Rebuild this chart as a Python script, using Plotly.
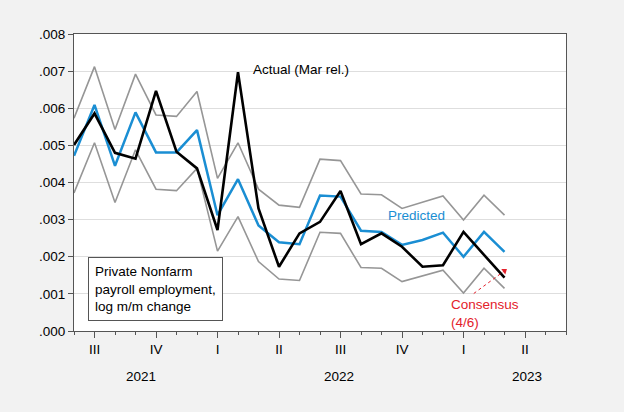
import plotly.graph_objects as go

# Monthly observations, June 2021 .. March 2023 (index 0 = Jun 2021)
months = ["2021-06", "2021-07", "2021-08", "2021-09", "2021-10", "2021-11", "2021-12",
          "2022-01", "2022-02", "2022-03", "2022-04", "2022-05", "2022-06", "2022-07",
          "2022-08", "2022-09", "2022-10", "2022-11", "2022-12", "2023-01", "2023-02", "2023-03"]
actual = [0.00501, 0.00586, 0.00480, 0.00464, 0.00647, 0.00483, 0.00438,
          0.00272, 0.00697, 0.00330, 0.00173, 0.00263, 0.00294, 0.00377,
          0.00234, 0.00263, 0.00227, 0.00173, 0.00177, 0.00267, 0.00205, 0.00144]
predicted = [0.00472, 0.00609, 0.00445, 0.00589, 0.00481, 0.00481, 0.00541,
             0.00312, 0.00409, 0.00284, 0.00239, 0.00234, 0.00365, 0.00362,
             0.00270, 0.00267, 0.00232, 0.00245, 0.00265, 0.00200, 0.00267, 0.00213]
upper = [0.00573, 0.00712, 0.00543, 0.00692, 0.00582, 0.00578, 0.00645,
         0.00411, 0.00507, 0.00382, 0.00339, 0.00333, 0.00463, 0.00459,
         0.00369, 0.00367, 0.00330, 0.00346, 0.00364, 0.00299, 0.00366, 0.00312]
lower = [0.00372, 0.00507, 0.00346, 0.00488, 0.00382, 0.00378, 0.00438,
         0.00215, 0.00308, 0.00187, 0.00140, 0.00136, 0.00266, 0.00263,
         0.00171, 0.00169, 0.00133, 0.00148, 0.00164, 0.00102, 0.00169, 0.00115]
consensus_month = "2023-03"
consensus_value = 0.00162

quarter_ticks = ["2021-07", "2021-10", "2022-01", "2022-04", "2022-07", "2022-10", "2023-01", "2023-04"]
quarter_labels = ["III", "IV", "I", "II", "III", "IV", "I", "II"]
year_labels = ["2021", "2022", "2023"]
year_pos = [3.27, 12.95, 22.1]
y_ticks = [0.000, 0.001, 0.002, 0.003, 0.004, 0.005, 0.006, 0.007, 0.008]
y_labels = [".000", ".001", ".002", ".003", ".004", ".005", ".006", ".007", ".008"]


def idx(m):
    y, mo = m.split("-")
    return (int(y) - 2021) * 12 + int(mo) - 6


x = [idx(m) for m in months]
FONT = "Liberation Sans, Arial, sans-serif"
GRAY = "#969696"
BLUE = "#1a8ed3"
RED = "#e3202a"

fig = go.Figure()
fig.add_trace(go.Scatter(x=x, y=upper, mode="lines", line=dict(color=GRAY, width=1.6)))
fig.add_trace(go.Scatter(x=x, y=lower, mode="lines", line=dict(color=GRAY, width=1.6)))
fig.add_trace(go.Scatter(x=x, y=predicted, mode="lines", line=dict(color=BLUE, width=2.5)))
fig.add_trace(go.Scatter(x=x, y=actual, mode="lines", line=dict(color="black", width=2.6)))

cx = idx(consensus_month)
# dotted pointer from label to the consensus marker
fig.add_shape(type="line", xref="x", yref="y", x0=cx - 1.5, y0=consensus_value - 0.00061,
              x1=cx, y1=consensus_value, line=dict(color=RED, width=1, dash="dot"))
fig.add_trace(go.Scatter(x=[cx], y=[consensus_value], mode="markers",
                         marker=dict(symbol="triangle-up", size=6, color=RED, angle=54)))

fig.add_annotation(x=8.65, y=0.00705, xref="x", yref="y", text="Actual (Mar rel.)",
                   showarrow=False, xanchor="left", yanchor="middle",
                   font=dict(family=FONT, size=13.5, color="black"))
fig.add_annotation(x=15.2, y=0.00310, xref="x", yref="y", text="Predicted",
                   showarrow=False, xanchor="left", yanchor="middle",
                   font=dict(family=FONT, size=13.5, color=BLUE))
fig.add_annotation(x=18.28, y=0.00098, xref="x", yref="y", text="Consensus<br>(4/6)",
                   showarrow=False, xanchor="left", yanchor="top", align="left",
                   font=dict(family=FONT, size=13.5, color=RED))
fig.add_annotation(x=0.70, y=0.001985, xref="x", yref="y",
                   text="Private Nonfarm<br>payroll employment,<br>log m/m change",
                   showarrow=False, xanchor="left", yanchor="top", align="left",
                   bgcolor="white", bordercolor="#555555", borderwidth=1, borderpad=6,
                   font=dict(family=FONT, size=13.5, color="black"))

for yl, yp in zip(year_labels, year_pos):
    fig.add_annotation(x=yp, y=-0.152, xref="x", yref="paper", text=yl, showarrow=False,
                       xanchor="center", yanchor="middle",
                       font=dict(family=FONT, size=13.5, color="black"))

fig.update_layout(
    width=624, height=412,
    margin=dict(l=74, r=58, t=34, b=81),
    paper_bgcolor="#f2f2f2", plot_bgcolor="white",
    showlegend=False,
    font=dict(family=FONT, size=13.5, color="black"),
    xaxis=dict(range=[0, 24], tickmode="array", tickvals=[idx(q) for q in quarter_ticks],
               ticktext=quarter_labels, ticks="outside", ticklen=6, tickcolor="#555555",
               showgrid=False, zeroline=False, showline=True, linecolor="#555555",
               linewidth=1, mirror=True,
               minor=dict(tick0=0, dtick=1, ticks="outside", ticklen=3, tickcolor="#555555",
                          showgrid=False),
               tickfont=dict(family=FONT, size=13.5)),
    yaxis=dict(range=[0, 0.008], tickmode="array", tickvals=y_ticks, ticktext=y_labels,
               ticks="outside", ticklen=5, tickcolor="#555555",
               showgrid=True, gridcolor="#dedede", gridwidth=1, zeroline=False,
               showline=True, linecolor="#555555", linewidth=1, mirror=True,
               tickfont=dict(family=FONT, size=13.5)),
)

fig.write_html("out.html")
